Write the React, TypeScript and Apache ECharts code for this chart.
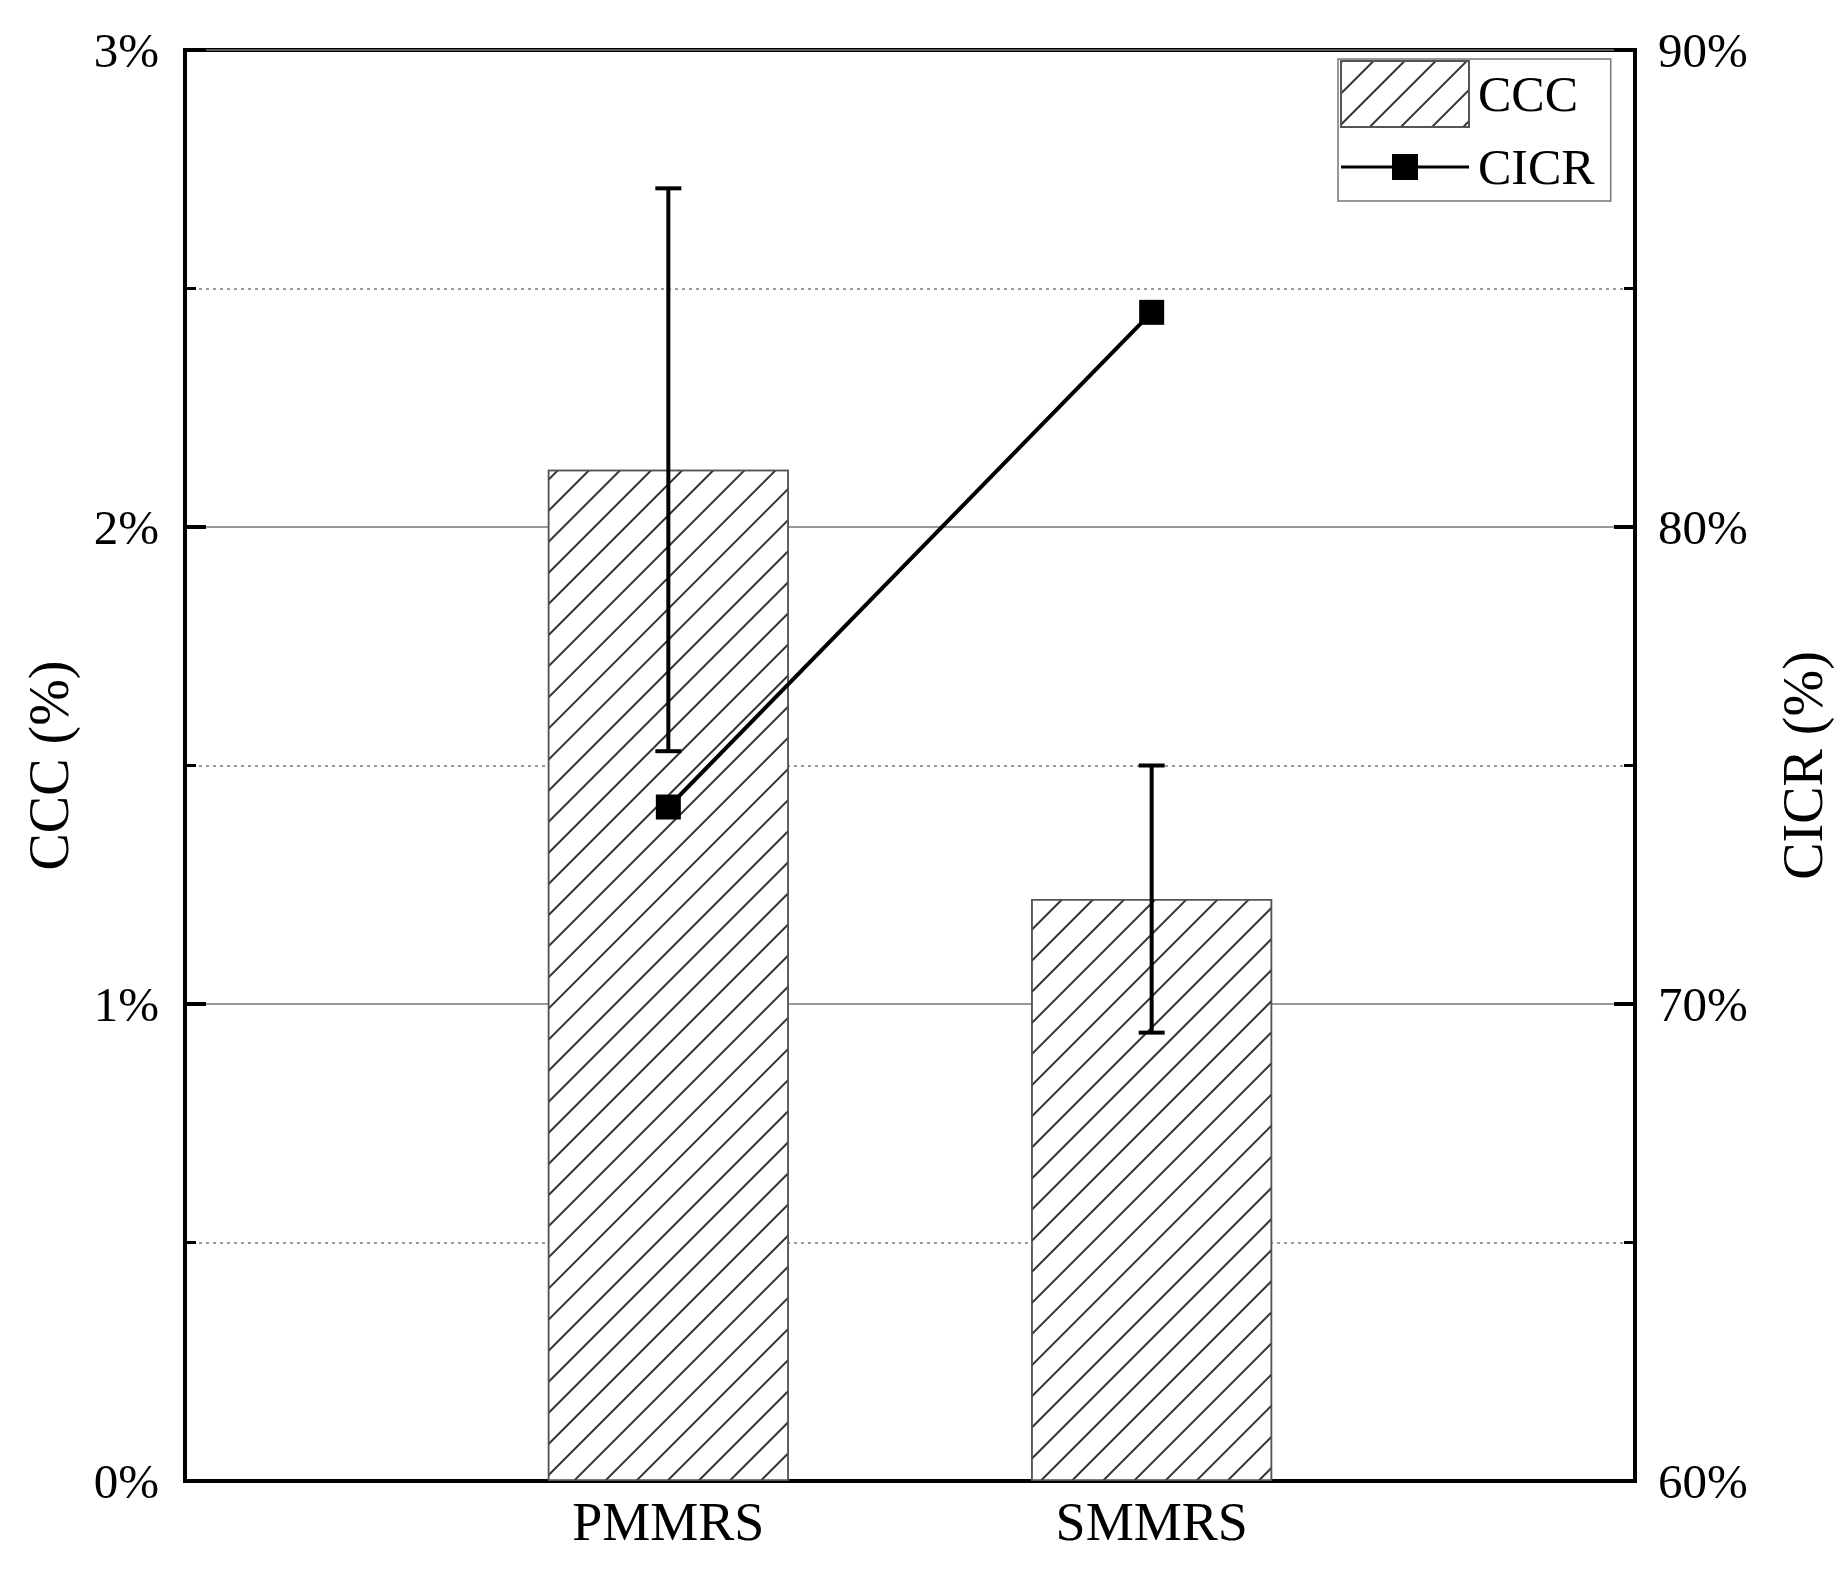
import React, { useEffect, useRef } from "react";
import * as echarts from "echarts";

const categories = ["", "PMMRS", "SMMRS", ""];
const cccValues = [null, 2.12, 1.22, null];
const cccErrors = [null, 0.59, 0.28, null];
const cicrValues = [null, 74.13, 84.5, null];
const leftTicks = [0, 1, 2, 3];
const rightTicks = [60, 70, 80, 90];

const FONT = "'Liberation Serif', 'Times New Roman', serif";

export default function App() {
  const ref = useRef<HTMLDivElement>(null);

  useEffect(() => {
    if (!ref.current) return;
    const chart = echarts.init(ref.current, undefined, { renderer: "svg" });

    const errData: number[][] = [];
    cccValues.forEach((v, i) => {
      const e = cccErrors[i];
      if (v != null && e != null) errData.push([i, v - e, v + e]);
    });

    const hatch = {
      symbol: "rect",
      symbolSize: 1,
      dashArrayX: [1, 0],
      dashArrayY: [2, 20],
      rotation: -Math.PI / 4,
      color: "#333",
    };

    const legendIconPath =
      "path://M0,11.5 L51,11.5 L51,0 L77,0 L77,11.5 L128,11.5 L128,14.5 L77,14.5 L77,26 L51,26 L51,14.5 L0,14.5 Z";

    chart.setOption({
      animation: false,
      backgroundColor: "#ffffff",
      textStyle: { fontFamily: FONT },
      grid: {
        left: 185,
        right: 213,
        top: 50,
        bottom: 94,
        show: true,
        borderColor: "#000",
        borderWidth: 4,
        backgroundColor: "transparent",
      },
      legend: {
        orient: "vertical",
        left: 1338,
        top: 59,
        padding: [1, 16, 9, 2],
        itemGap: 14,
        itemWidth: 128,
        itemHeight: 66,
        borderColor: "#777",
        borderWidth: 1.5,
        backgroundColor: "#fff",
        selectedMode: false,
        textStyle: { fontSize: 50, color: "#000", fontFamily: FONT, padding: [0, 0, 0, 4] },
        data: [
          { name: "CCC", icon: "rect" },
          { name: "CICR", icon: legendIconPath, itemStyle: { color: "#000", borderWidth: 0 } },
        ],
      },
      xAxis: {
        type: "category",
        data: categories,
        boundaryGap: false,
        axisLine: { show: true, lineStyle: { color: "#000", width: 4 } },
        axisTick: {
          show: true,
          inside: true,
          length: 24,
          lineStyle: { color: "#000", width: 3 },
          interval: (index: number) => index === 1 || index === 2,
        },
        axisLabel: {
          fontSize: 54,
          color: "#000",
          fontFamily: FONT,
          margin: 14,
          interval: 0,
        },
        splitLine: { show: false },
      },
      yAxis: [
        {
          type: "value",
          min: leftTicks[0],
          max: leftTicks[leftTicks.length - 1],
          interval: 1,
          position: "left",
          name: "CCC (%)",
          nameLocation: "middle",
          nameRotate: 90,
          nameGap: 108,
          nameTextStyle: { fontSize: 56, color: "#000", fontFamily: FONT },
          axisLine: { show: true, lineStyle: { color: "#000", width: 4 } },
          axisTick: { show: true, inside: true, length: 21, lineStyle: { color: "#000", width: 4 } },
          minorTick: { show: true, splitNumber: 2, length: 11, lineStyle: { color: "#000", width: 3 } },
          axisLabel: {
            formatter: "{value}%",
            fontSize: 49,
            color: "#000",
            fontFamily: FONT,
            margin: 26,
          },
          splitLine: { show: true, lineStyle: { color: "#777", width: 1.5, type: "solid" } },
          minorSplitLine: { show: true, lineStyle: { color: "#999", width: 2, type: [3, 4] } },
        },
        {
          type: "value",
          min: rightTicks[0],
          max: rightTicks[rightTicks.length - 1],
          interval: 10,
          position: "right",
          name: "CICR (%)",
          nameLocation: "middle",
          nameRotate: 90,
          nameGap: 140,
          nameTextStyle: { fontSize: 56, color: "#000", fontFamily: FONT },
          axisLine: { show: true, lineStyle: { color: "#000", width: 4 } },
          axisTick: { show: true, inside: true, length: 21, lineStyle: { color: "#000", width: 4 } },
          minorTick: { show: true, splitNumber: 2, length: 11, lineStyle: { color: "#000", width: 3 } },
          axisLabel: {
            formatter: "{value}%",
            fontSize: 49,
            color: "#000",
            fontFamily: FONT,
            margin: 23,
          },
          splitLine: { show: false },
        },
      ],
      series: [
        {
          name: "CCC",
          type: "bar",
          yAxisIndex: 0,
          data: cccValues,
          barWidth: 241,
          z: 2,
          itemStyle: {
            color: "#fff",
            borderColor: "#555",
            borderWidth: 1.5,
            decal: hatch,
          },
        },
        {
          name: "CCC error",
          type: "custom",
          yAxisIndex: 0,
          z: 4,
          data: errData,
          encode: { x: 0, y: [1, 2] },
          renderItem: (params: any, api: any) => {
            const x = api.value(0);
            const lo = api.value(1);
            const hi = api.value(2);
            const top = api.coord([x, hi]);
            const bot = api.coord([x, lo]);
            const hw = 13;
            const st = { stroke: "#000", lineWidth: 4 };
            return {
              type: "group",
              children: [
                { type: "line", shape: { x1: top[0], y1: top[1], x2: bot[0], y2: bot[1] }, style: st },
                { type: "line", shape: { x1: top[0] - hw, y1: top[1], x2: top[0] + hw, y2: top[1] }, style: st },
                { type: "line", shape: { x1: bot[0] - hw, y1: bot[1], x2: bot[0] + hw, y2: bot[1] }, style: st },
              ],
            };
          },
        },
        {
          name: "CICR",
          type: "line",
          yAxisIndex: 1,
          data: cicrValues,
          symbol: "rect",
          symbolSize: 25,
          z: 5,
          itemStyle: { color: "#000" },
          lineStyle: { color: "#000", width: 4 },
        },
      ],
    });

    return () => {
      chart.dispose();
    };
  }, []);

  return (
    <div
      ref={ref}
      style={{ position: "fixed", left: 0, top: 0, width: 1848, height: 1575, background: "#fff" }}
    />
  );
}
